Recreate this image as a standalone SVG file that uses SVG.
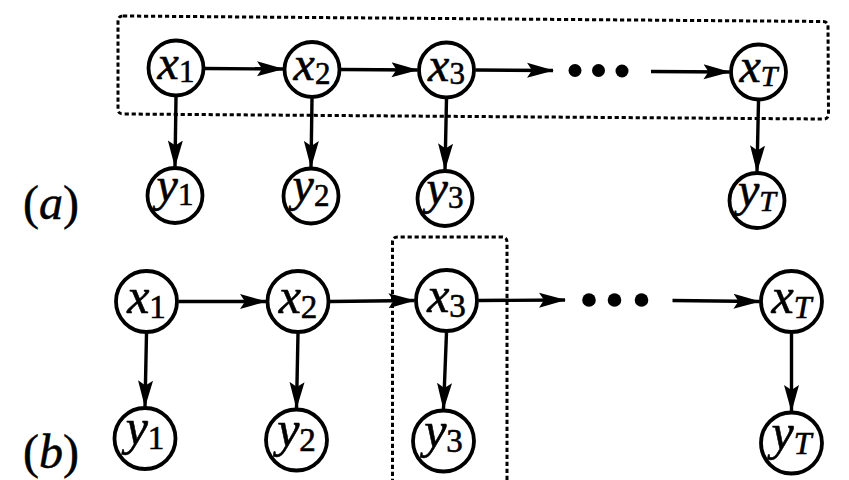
<svg xmlns="http://www.w3.org/2000/svg" width="849" height="480" viewBox="0 0 849 480">
<defs>
<style>
.n{fill:#fff;stroke:#000;stroke-width:3.8}
.e{stroke:#000;stroke-width:3.4;fill:none;marker-end:url(#ah)}
.box{fill:none;stroke:#000;stroke-width:3;stroke-dasharray:4.2 2.8}
.dot{fill:#000}
.ta{font-size:48px;text-anchor:middle;fill:#000;stroke:#000;stroke-width:0.6}
.tb{font-size:50px;text-anchor:middle;fill:#000;stroke:#000;stroke-width:0.6}
.v{font-style:italic}
.lbl{font-size:48px;fill:#000;stroke:#000;stroke-width:0.5}
</style>
<marker id="ah" markerUnits="userSpaceOnUse" markerWidth="28" markerHeight="18" viewBox="0 -9 28 18" refX="26" refY="0" orient="auto">
<path d="M0,-7.5 L27,0 L0,7.5 L5,0 Z" fill="#000"/>
</marker>
</defs>
<rect width="849" height="480" fill="#fff"/>

<g id="boxes">
<path class="box" d="M123,16 L823,21.5 Q828,21.5 828,26.5 L828.5,114 Q828.5,119 823.5,119 L123,114 Q118,114 118,109 L118,21 Q118,16 123,16 Z"/>
<path class="box" d="M392.5,490 L392.5,242 Q392.5,237 397.5,237 L502,237 Q507,237 507,242 L507,490"/>
</g>

<g id="connectors">
<line class="e" x1="205" y1="68.5" x2="283" y2="69"/>
<line class="e" x1="341" y1="69.5" x2="417.5" y2="70"/>
<line class="e" x1="475.5" y1="70" x2="553" y2="70.5"/>
<line class="e" x1="651" y1="71.5" x2="729.5" y2="72"/>
<line class="e" x1="176" y1="97" x2="175" y2="166.5"/>
<line class="e" x1="312" y1="98.5" x2="311" y2="167"/>
<line class="e" x1="446.5" y1="99" x2="445" y2="169.5"/>
<line class="e" x1="758.5" y1="101" x2="757" y2="171.5"/>

<line class="e" x1="178.5" y1="301.5" x2="266" y2="301.5"/>
<line class="e" x1="330" y1="301.5" x2="414.5" y2="300.5"/>
<line class="e" x1="478.5" y1="300.5" x2="565" y2="300"/>
<line class="e" x1="672.5" y1="300.5" x2="759.5" y2="301.5"/>
<line class="e" x1="146.5" y1="333.5" x2="145" y2="406.5"/>
<line class="e" x1="298" y1="333.5" x2="296.5" y2="408"/>
<line class="e" x1="446.5" y1="332.5" x2="443.5" y2="409"/>
<line class="e" x1="791.5" y1="333.5" x2="791.5" y2="411"/>
</g>

<g id="dots">
<circle class="dot" cx="575" cy="70.5" r="6.5"/>
<circle class="dot" cx="598.5" cy="70.5" r="6.5"/>
<circle class="dot" cx="622" cy="71" r="6.5"/>
<circle class="dot" cx="589" cy="300" r="6.8"/>
<circle class="dot" cx="614.5" cy="300" r="6.8"/>
<circle class="dot" cx="641.5" cy="300" r="6.8"/>
</g>

<g id="a-x1"><circle class="n" cx="176" cy="68" r="27.5"/><text class="ta" font-family="Liberation Serif" x="176" y="78.5"><tspan class="v">x</tspan><tspan font-size="31" dy="3.5">1</tspan></text></g>
<g id="a-x2"><circle class="n" cx="312" cy="69.5" r="27.5"/><text class="ta" font-family="Liberation Serif" x="312" y="80"><tspan class="v">x</tspan><tspan font-size="31" dy="3.5">2</tspan></text></g>
<g id="a-x3"><circle class="n" cx="446.5" cy="70" r="27.5"/><text class="ta" font-family="Liberation Serif" x="446.5" y="80.5"><tspan class="v">x</tspan><tspan font-size="31" dy="3.5">3</tspan></text></g>
<g id="a-xT"><circle class="n" cx="758.5" cy="72" r="27.5"/><text class="ta" font-family="Liberation Serif" x="758.5" y="82"><tspan class="v">x</tspan><tspan class="v" font-size="30" dy="4">T</tspan></text></g>
<g id="a-y1"><circle class="n" cx="175" cy="195.5" r="27.5"/><text class="ta" font-family="Liberation Serif" x="175" y="200.5"><tspan class="v">y</tspan><tspan font-size="31" dy="4.5">1</tspan></text></g>
<g id="a-y2"><circle class="n" cx="311" cy="196" r="27.5"/><text class="ta" font-family="Liberation Serif" x="311" y="201"><tspan class="v">y</tspan><tspan font-size="31" dy="4.5">2</tspan></text></g>
<g id="a-y3"><circle class="n" cx="445" cy="198.5" r="27.5"/><text class="ta" font-family="Liberation Serif" x="445" y="203.5"><tspan class="v">y</tspan><tspan font-size="31" dy="4.5">3</tspan></text></g>
<g id="a-yT"><circle class="n" cx="757" cy="200.5" r="27.5"/><text class="ta" font-family="Liberation Serif" x="757" y="205.5"><tspan class="v">y</tspan><tspan class="v" font-size="30" dy="5">T</tspan></text></g>

<g id="b-x1"><circle class="n" cx="146.5" cy="301.5" r="30.5"/><text class="tb" font-family="Liberation Serif" x="146.5" y="313"><tspan class="v">x</tspan><tspan font-size="33" dy="5">1</tspan></text></g>
<g id="b-x2"><circle class="n" cx="298" cy="301.5" r="30.5"/><text class="tb" font-family="Liberation Serif" x="298" y="313"><tspan class="v">x</tspan><tspan font-size="33" dy="5">2</tspan></text></g>
<g id="b-x3"><circle class="n" cx="446.5" cy="300.5" r="30.5"/><text class="tb" font-family="Liberation Serif" x="446.5" y="312"><tspan class="v">x</tspan><tspan font-size="33" dy="5">3</tspan></text></g>
<g id="b-xT"><circle class="n" cx="791.5" cy="301.5" r="30.5"/><text class="tb" font-family="Liberation Serif" x="791.5" y="313"><tspan class="v">x</tspan><tspan class="v" font-size="32" dy="5">T</tspan></text></g>
<g id="b-y1"><circle class="n" cx="145" cy="438.5" r="30.5"/><text class="tb" font-family="Liberation Serif" x="145" y="444"><tspan class="v">y</tspan><tspan font-size="33" dy="5">1</tspan></text></g>
<g id="b-y2"><circle class="n" cx="296.5" cy="440" r="30.5"/><text class="tb" font-family="Liberation Serif" x="296.5" y="445.5"><tspan class="v">y</tspan><tspan font-size="33" dy="5">2</tspan></text></g>
<g id="b-y3"><circle class="n" cx="443.5" cy="441" r="30.5"/><text class="tb" font-family="Liberation Serif" x="443.5" y="446.5"><tspan class="v">y</tspan><tspan font-size="33" dy="5">3</tspan></text></g>
<g id="b-yT"><circle class="n" cx="791.5" cy="443" r="30.5"/><text class="tb" font-family="Liberation Serif" x="791.5" y="448.5"><tspan class="v">y</tspan><tspan class="v" font-size="32" dy="5">T</tspan></text></g>

<g id="labels">
<text class="lbl" font-family="Liberation Serif" x="23" y="219">(<tspan class="v">a</tspan>)</text>
<text class="lbl" font-family="Liberation Serif" x="23" y="468">(<tspan class="v">b</tspan>)</text>
</g>
</svg>
